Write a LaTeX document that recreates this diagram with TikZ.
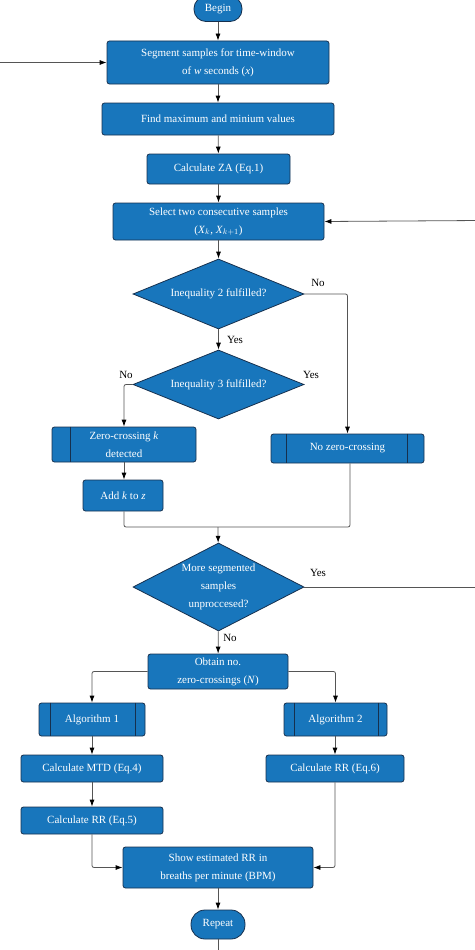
\documentclass[tikz,border=0pt]{standalone}
\usepackage{fontspec}
\setmainfont{Liberation Serif}
\usetikzlibrary{arrows.meta,shapes.geometric}
\definecolor{boxc}{RGB}{24,118,188}
\definecolor{bordc}{RGB}{22,48,78}
\definecolor{linec}{RGB}{85,85,85}
\begin{document}
\begin{tikzpicture}[x=1pt,y=-1pt,
  box/.style={draw=bordc,fill=boxc,line width=0.8pt,rounded corners=2.5pt,text=white,
    font=\fontsize{11}{18}\selectfont,align=center,inner sep=0pt},
  term/.style={box,rounded corners=12pt},
  dec/.style={draw=bordc,fill=boxc,line width=0.8pt,shape=diamond,text=white,
    font=\fontsize{11}{18}\selectfont,align=center,inner sep=0pt,minimum width=171pt},
  conn/.style={draw=linec,line width=0.8pt,rounded corners=2pt},
  arr/.style={conn,-{Latex[length=7pt,width=5pt,color=black]}},
  lab/.style={font=\fontsize{11}{12}\selectfont,text=black,inner sep=0pt},
  sub/.style={draw=bordc,line width=0.8pt}
]
\useasboundingbox (0,0) rectangle (474,950);

% nodes
\node[term,minimum width=48pt,minimum height=25pt] (begin) at (218,9) {Begin};
\node[box,minimum width=222pt,minimum height=43pt] (seg) at (218,62.5) {Segment samples for time-window\\of \textit{w} seconds (\textit{x})};
\node[box,minimum width=232pt,minimum height=32pt] (find) at (218,119) {Find maximum and minium values};
\node[box,minimum width=143pt,minimum height=30pt] (za) at (218.5,169) {Calculate ZA (Eq.1)};
\node[box,minimum width=211pt,minimum height=37pt] (sel) at (218.5,221.5) {Select two consecutive samples\\(\textit{X}$_{k}$, \textit{X}$_{k+1}$)};
\node[dec,aspect=2.44,minimum height=70pt] (d1) at (218.5,294) {Inequality 2 fulfilled?};
\node[dec,aspect=2.48,minimum height=69pt] (d2) at (218.5,384.5) {Inequality 3 fulfilled?};
\node[box,minimum width=144pt,minimum height=35pt] (zc) at (124,444.5) {Zero-crossing \textit{k}\\detected};
\node[box,minimum width=153pt,minimum height=29pt] (nzc) at (347.5,448.5) {No zero-crossing};
\node[box,minimum width=80pt,minimum height=31pt] (addk) at (123,495.5) {Add \textit{k} to \textit{z}};
\node[dec,aspect=1.94,minimum height=88pt] (d3) at (218.5,587) {More segmented\\samples\\unproccesed?};
\node[box,minimum width=140pt,minimum height=35pt] (obt) at (218,671.5) {Obtain no.\\zero-crossings (\textit{N})};
\node[box,minimum width=106pt,minimum height=33pt] (alg1) at (92,719.5) {Algorithm 1};
\node[box,minimum width=103pt,minimum height=33pt] (alg2) at (335.5,719.5) {Algorithm 2};
\node[box,minimum width=142pt,minimum height=27pt] (mtd) at (92,768.5) {Calculate MTD (Eq.4)};
\node[box,minimum width=138pt,minimum height=27pt] (rr6) at (335,768.5) {Calculate RR (Eq.6)};
\node[box,minimum width=142pt,minimum height=27pt] (rr5) at (92,820.5) {Calculate RR (Eq.5)};
\node[box,minimum width=190pt,minimum height=41pt] (show) at (218,867.5) {Show estimated RR in\\breaths per minute (BPM)};
\node[term,minimum width=54pt,minimum height=29pt,rounded corners=14pt] (rep) at (218,924.5) {Repeat};

% subroutine bars
\draw[sub] ([xshift=19pt]zc.north west) -- ([xshift=19pt]zc.south west);
\draw[sub] ([xshift=16pt]nzc.north west) -- ([xshift=16pt]nzc.south west);
\draw[sub] ([xshift=-17pt]nzc.north east) -- ([xshift=-17pt]nzc.south east);
\draw[sub] ([xshift=12pt]alg1.north west) -- ([xshift=12pt]alg1.south west);
\draw[sub] ([xshift=-10pt]alg1.north east) -- ([xshift=-10pt]alg1.south east);
\draw[sub] ([xshift=11pt]alg2.north west) -- ([xshift=11pt]alg2.south west);
\draw[sub] ([xshift=-9pt]alg2.north east) -- ([xshift=-9pt]alg2.south east);

% loop ends (cut by the frame)
\coordinate (inL) at (-5,62.5);
\coordinate (inR) at (480,220.5);
\coordinate (outR) at (480,587);
\coordinate (outB) at (218,956);
\coordinate (j1) at (124,527);
\coordinate (j2) at (350,527);
\coordinate (jm) at (218,527);

% connectors
\draw[arr] (begin) -- (seg);
\draw[arr] (inL) -- (seg.west);
\draw[arr] (seg) -- (find);
\draw[arr] (find) -- (za);
\draw[arr] (za) -- (sel);
\draw[arr] (inR) -- (sel.east);
\draw[arr] (sel) -- (d1);
\draw[arr] (d1.east) -| (nzc.north);
\draw[arr] (d1) -- (d2);
\draw[arr] (d2.west) -| (zc.north);
\draw[arr] (zc) -- (addk.north -| zc.south);
\draw[conn] (addk.south -| j1) -- (j1) -- (j2) -- (nzc.south -| j2);
\draw[arr] (jm) -- (d3);
\draw[conn] (d3.east) -- (outR);
\draw[arr] (d3) -- (obt);
\draw[arr] (obt.west) -| (alg1.north);
\draw[arr] (obt.east) -| (alg2.north);
\draw[arr] (alg1) -- (mtd);
\draw[arr] (mtd) -- (rr5);
\draw[arr] (alg2.south -| rr6.north) -- (rr6.north);
\draw[arr] (rr5.south) |- (show.west);
\draw[arr] (rr6.south) |- (show.east);
\draw[arr] (show) -- (rep);
\draw[conn] (rep) -- (outB);

% labels
\node[lab] (l1) at (318,283) {No};
\node[lab] (l2) at (235,340) {Yes};
\node[lab] (l3) at (126,375) {No};
\node[lab] (l4) at (311,375) {Yes};
\node[lab] (l5) at (318,573) {Yes};
\node[lab] (l6) at (230,638) {No};
\end{tikzpicture}
\end{document}
